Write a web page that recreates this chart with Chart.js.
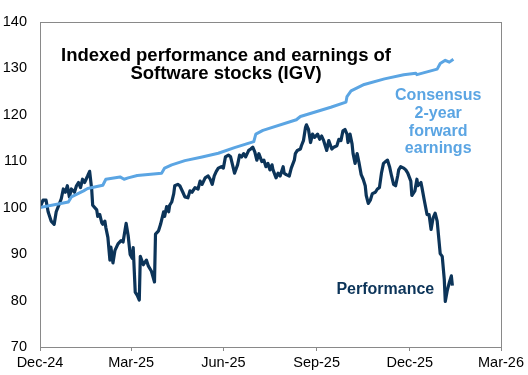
<!DOCTYPE html>
<html>
<head>
<meta charset="utf-8">
<script src="https://cdn.jsdelivr.net/npm/chart.js@4.4.1/dist/chart.umd.min.js"></script>
<style>
  html, body { margin: 0; padding: 0; background: #ffffff; }
  #wrap { width: 528px; height: 375px; position: relative; }
</style>
</head>
<body>
<div id="wrap"><canvas id="c" width="528" height="375"></canvas></div>
<script>
// x values are days since 31-Dec-2024
const tickDays   = [0, 90, 181, 273, 365, 455];
const tickLabels = ['Dec-24', 'Mar-25', 'Jun-25', 'Sep-25', 'Dec-25', 'Mar-26'];

const perfDays = [0,3,6,8,11,14,16,18,21,23,25,27,29,31,34,36,38,40,42,44,47,49,51,52,56,57,59,61,62,64,65,67,69,70,72,74,77,80,82,85,87,89,91,92,94,96,98,99,102,105,107,110,113,114,117,119,122,123,125,127,128,130,132,133,136,138,141,143,146,148,150,153,156,158,160,163,166,168,170,172,174,176,179,181,183,186,188,192,195,197,199,201,203,206,208,210,212,214,216,219,221,223,225,227,229,230,233,235,237,240,241,243,246,248,251,252,254,257,258,260,262,263,265,267,269,271,274,276,278,280,283,285,288,290,293,295,297,299,301,303,304,306,308,309,311,313,315,317,319,321,322,324,326,328,331,333,335,337,339,341,343,345,347,349,351,353,354,356,359,361,363,366,367,370,372,373,376,377,379,382,384,386,388,390,392,395,397,399,400,402,404,406,407];
const perfValues = [100,101.6,101.6,99.1,97.1,96.4,99.1,100.2,101.9,104.0,103.3,104.7,102.3,104.0,103.3,104.7,105.4,104.3,106.1,105.4,106.8,107.8,104,100.5,99.5,98.1,98.5,96.7,96.4,97.1,95.7,93.6,88.7,91.5,88.1,90.8,92.2,92.9,92.6,96.6,94.0,89.9,89.1,91.4,81.8,81.1,80.1,89.5,87.7,88.7,87.4,86.3,84.0,94.3,95.0,96.4,99.1,98.1,100.2,99.1,100.5,101.2,103.0,104.7,105.0,104.7,103.3,102.3,102.1,103.6,103.3,104.3,104.0,105.7,105.0,106.4,106.8,106.1,105.0,106.8,107.8,108.5,108.8,108.5,110.9,111.3,111.0,107.4,109.2,111.3,110.9,111.6,110.9,112.3,112.6,113.0,112.0,110.2,111.6,109.9,110.2,108.8,109.5,108.1,109.2,108.1,106.4,107.4,106.8,108.8,107.4,107.1,106.8,108.5,110.2,111.6,112.3,112.6,113.3,114.4,117.2,117.8,116.8,114.0,115.8,115.1,115.8,114.7,115.4,114.4,112.3,114.4,112.6,113.0,113.3,114.7,114.4,116.5,116.8,115.8,114.0,115.8,113.7,111.6,109.5,111.6,109.5,107.1,106.1,104.7,102.6,100.9,101.6,103.0,103.3,104.0,104.3,107.4,109.5,109.9,110.2,108.8,106.8,105.0,104.7,106.8,108.1,108.8,108.5,108.1,107.4,105.7,102.6,103.6,106.1,104.7,105.4,104.3,101.9,98.5,98.5,95.3,97.8,98.8,97.1,90.1,89.5,84.6,79.8,82.2,83.9,85.3,83.2];

const earnDays   = [0,28,31,43,47,62,65,79,83,87,96,120,123,130,143,160,176,192,211,213,220,253,257,287,302,303,307,320,340,359,371,372,392,395,400,404,408];
const earnValues = [100,101.2,102.3,103.6,104.1,104.8,106.1,106.6,106.1,106.4,106.9,107.4,108.5,109.2,110.1,110.9,111.7,112.9,114.2,115.8,116.6,118.9,119.6,121.6,122.7,123.9,125.1,126.5,127.7,128.6,128.9,128.6,129.8,131.0,131.7,131.3,131.9];

const yMin = 70, yMax = 140, yStep = 10;

const perfColor = '#0C3459';
const earnColor = '#5BA5E3';
const axisColor = '#898989';
const FONT = '"Liberation Sans", Arial, sans-serif';

// text annotations placed in data coordinates (day, value)
const notes = [
  { text: 'Indexed performance and earnings of', day: 183.6, value: 131.63, color: '#000000', size: 18.5 },
  { text: 'Software stocks (IGV)',               day: 183.6, value: 127.68, color: '#000000', size: 18.5 },
  { text: 'Consensus', day: 393, value: 123.07, color: earnColor, size: 16 },
  { text: '2-year',    day: 393, value: 119.23, color: earnColor, size: 16 },
  { text: 'forward',   day: 393, value: 115.43, color: earnColor, size: 16 },
  { text: 'earnings',  day: 393, value: 111.65, color: earnColor, size: 16 },
  { text: 'Performance', day: 340.8, value: 81.32, color: perfColor, size: 16 }
];

const toXY = (xs, ys) => xs.map((x, i) => ({ x: x, y: ys[i] }));

const framePlugin = {
  id: 'frame',
  afterDraw(chart) {
    const { ctx, chartArea: a } = chart;
    ctx.save();
    ctx.strokeStyle = axisColor;
    ctx.lineWidth = 1;
    ctx.strokeRect(Math.round(a.left) + 0.5, Math.round(a.top) + 0.5,
                   Math.round(a.right - a.left), Math.round(a.bottom - a.top));
    const xs = chart.scales.x, ys = chart.scales.y;
    ctx.textAlign = 'center';
    ctx.textBaseline = 'alphabetic';
    notes.forEach(n => {
      ctx.font = 'bold ' + n.size + 'px ' + FONT;
      ctx.fillStyle = n.color;
      ctx.fillText(n.text, xs.getPixelForValue(n.day), ys.getPixelForValue(n.value));
    });
    ctx.restore();
  }
};

new Chart(document.getElementById('c'), {
  type: 'line',
  data: {
    datasets: [
      {
        label: 'Consensus 2-year forward earnings',
        data: toXY(earnDays, earnValues),
        borderColor: earnColor,
        borderWidth: 3,
        pointRadius: 0,
        tension: 0,
        borderJoinStyle: 'round'
      },
      {
        label: 'Performance',
        data: toXY(perfDays, perfValues),
        borderColor: perfColor,
        borderWidth: 3.2,
        pointRadius: 0,
        tension: 0,
        borderJoinStyle: 'round'
      }
    ]
  },
  options: {
    responsive: false,
    animation: false,
    events: [],
    layout: { padding: { top: 10, right: 27, left: 0, bottom: 0 } },
    plugins: { legend: { display: false }, tooltip: { enabled: false }, title: { display: false } },
    scales: {
      x: {
        type: 'linear',
        min: tickDays[0],
        max: tickDays[tickDays.length - 1],
        afterBuildTicks(scale) { scale.ticks = tickDays.map(v => ({ value: v })); },
        afterFit(scale) { scale.height = 28; },
        ticks: {
          autoSkip: false,
          maxRotation: 0,
          padding: 3,
          color: '#000000',
          font: { family: FONT, size: 14.5 },
          callback: (v) => { const i = tickDays.indexOf(v); return i >= 0 ? tickLabels[i] : ''; }
        },
        grid: { display: true, drawOnChartArea: false, drawTicks: true, tickLength: 4, color: axisColor },
        border: { display: false }
      },
      y: {
        min: yMin,
        max: yMax,
        afterFit(scale) { scale.width = 40; },
        ticks: {
          stepSize: yStep,
          padding: 13,
          color: '#000000',
          font: { family: FONT, size: 14.5 }
        },
        grid: { display: false, drawTicks: false },
        border: { display: false }
      }
    }
  },
  plugins: [framePlugin]
});
</script>
</body>
</html>
